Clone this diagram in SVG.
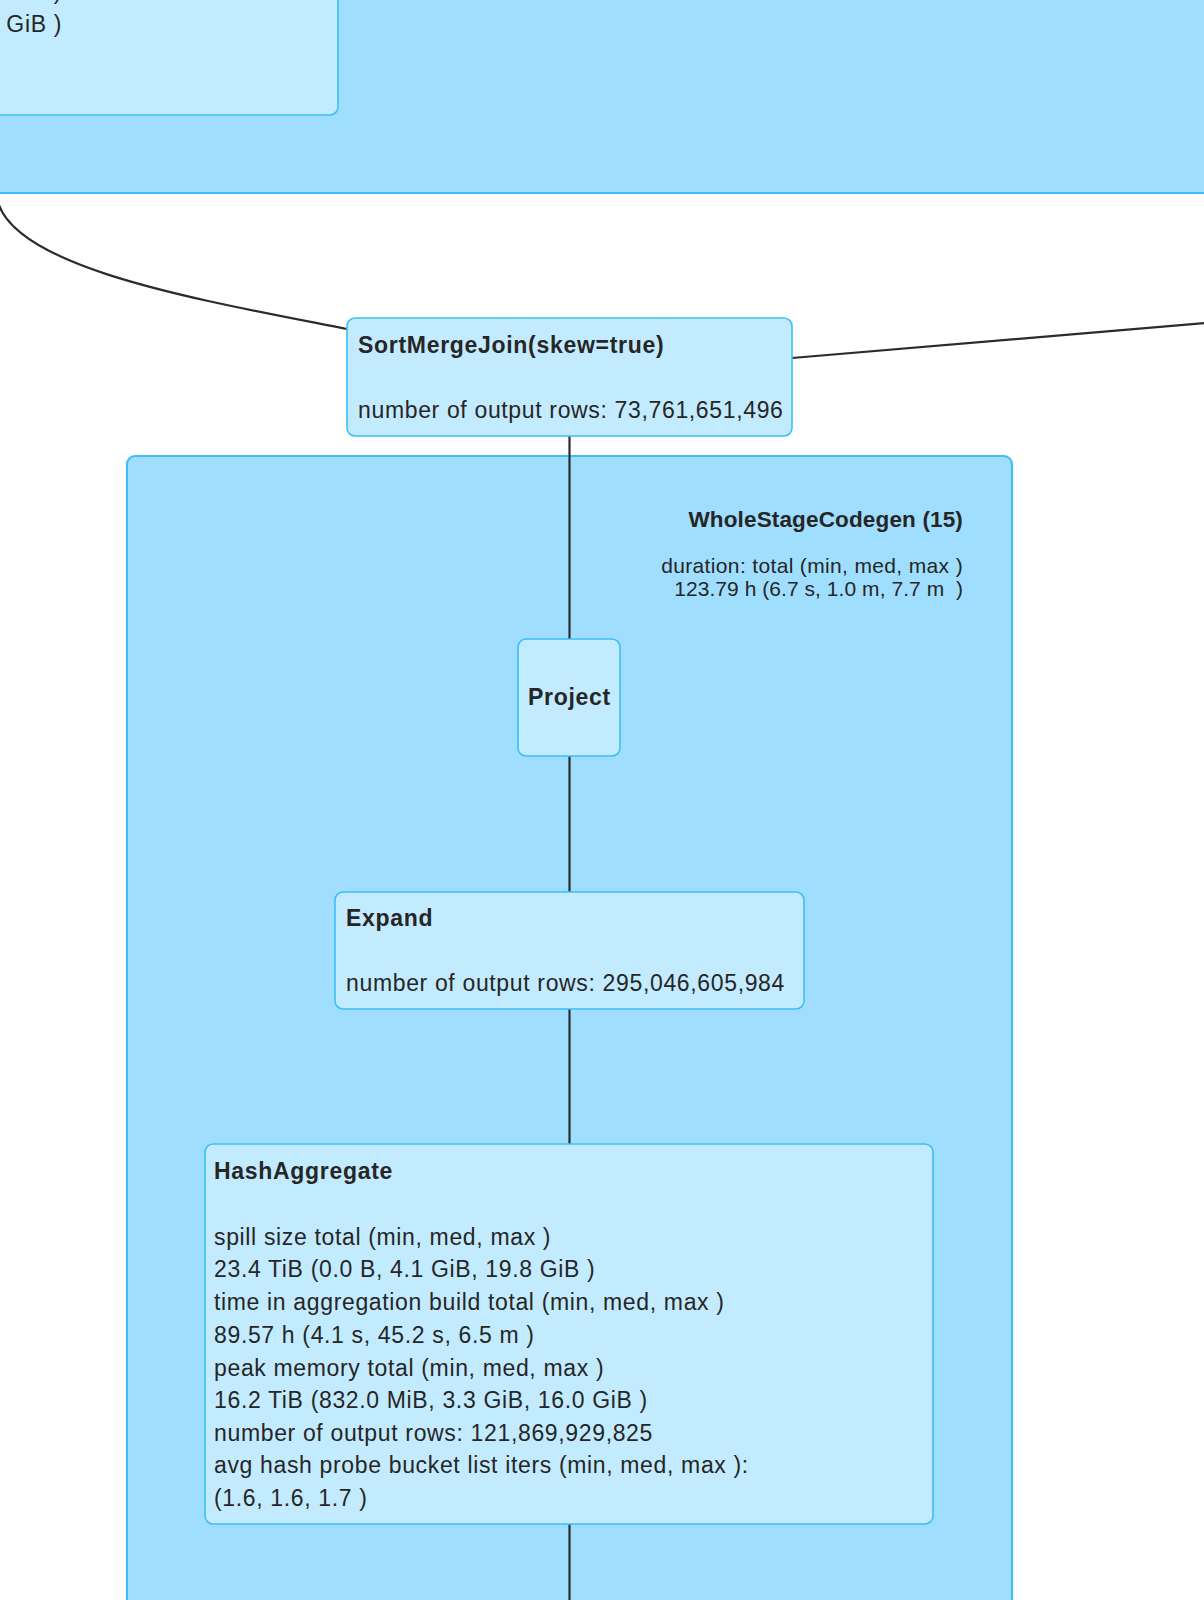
<svg xmlns="http://www.w3.org/2000/svg" width="1204" height="1600" viewBox="0 0 1204 1600">
<style>
.cluster{fill:#A0DEFF;stroke:#3DBEF7;stroke-width:2}
.node{fill:#C3EBFF;stroke:#3DBEF7;stroke-width:1.6}
.edge{fill:none;stroke:#2b2b2b;stroke-width:2.2}
text{font-family:"Liberation Sans",Arial,sans-serif;fill:#262626}
.t{font-size:23px;font-weight:bold;letter-spacing:0.7px}
.m{font-size:23px;letter-spacing:0.65px}
.ct{font-size:22.5px;font-weight:bold;letter-spacing:0.15px}
.cm{font-size:21px;letter-spacing:0.35px}
</style>
<rect width="1204" height="1600" fill="#ffffff"/>
<g id="cluster-top">
<rect class="cluster" x="-20" y="-20" width="1250" height="213" rx="8"/>
</g>
<g id="node-top-left">
<rect class="node" x="-20" y="-20" width="358" height="135" rx="8"/>
<text class="m" x="62" y="-1" text-anchor="end">(min, med, max )</text>
<text class="m" x="62" y="32" text-anchor="end">16.0 GiB )</text>
</g>
<g id="cluster-wsc15">
<rect class="cluster" x="127" y="456" width="885" height="1160" rx="8"/>
<text class="ct" x="963" y="527" text-anchor="end">WholeStageCodegen (15)</text>
<text class="cm" x="963" y="573" text-anchor="end">duration: total (min, med, max )</text>
<text class="cm" x="963" y="596" text-anchor="end" xml:space="preserve" style="letter-spacing:0.05px">123.79 h (6.7 s, 1.0 m, 7.7 m  )</text>
</g>
<g id="connectors">
<path class="edge" d="M -3 198 C 10 268, 200 300, 347 329"/>
<path class="edge" d="M 792 358 L 1206 323"/>
<path class="edge" d="M 569.5 436 L 569.5 639"/>
<path class="edge" d="M 569.5 756 L 569.5 892"/>
<path class="edge" d="M 569.5 1009 L 569.5 1144"/>
<path class="edge" d="M 569.5 1524 L 569.5 1602"/>
</g>
<g id="node-smj">
<rect class="node" x="347" y="318" width="445" height="118" rx="8"/>
<text class="t" x="358" y="353">SortMergeJoin(skew=true)</text>
<text class="m" x="358" y="418">number of output rows: 73,761,651,496</text>
</g>
<g id="node-project">
<rect class="node" x="518" y="639" width="102" height="117" rx="8"/>
<text class="t" x="569.5" y="705" text-anchor="middle">Project</text>
</g>
<g id="node-expand">
<rect class="node" x="335" y="892" width="469" height="117" rx="8"/>
<text class="t" x="346" y="926">Expand</text>
<text class="m" x="346" y="991">number of output rows: 295,046,605,984</text>
</g>
<g id="node-hashaggregate">
<rect class="node" x="205" y="1144" width="728" height="380" rx="8"/>
<text class="t" x="214" y="1179">HashAggregate</text>
<text class="m" x="214" y="1245">spill size total (min, med, max )</text>
<text class="m" x="214" y="1277">23.4 TiB (0.0 B, 4.1 GiB, 19.8 GiB )</text>
<text class="m" x="214" y="1310">time in aggregation build total (min, med, max )</text>
<text class="m" x="214" y="1343">89.57 h (4.1 s, 45.2 s, 6.5 m )</text>
<text class="m" x="214" y="1376">peak memory total (min, med, max )</text>
<text class="m" x="214" y="1408">16.2 TiB (832.0 MiB, 3.3 GiB, 16.0 GiB )</text>
<text class="m" x="214" y="1441">number of output rows: 121,869,929,825</text>
<text class="m" x="214" y="1473">avg hash probe bucket list iters (min, med, max ):</text>
<text class="m" x="214" y="1506">(1.6, 1.6, 1.7 )</text>
</g>
</svg>
